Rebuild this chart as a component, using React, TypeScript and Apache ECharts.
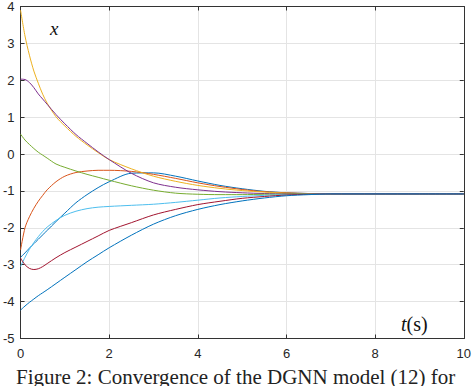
import React, { useEffect, useRef } from "react";
import * as echarts from "echarts";

const T = [0, 0.1, 0.2, 0.3, 0.4, 0.5, 0.6, 0.8, 1, 1.25, 1.5, 1.75, 2, 2.5, 3, 3.5, 4, 4.5, 5, 5.5, 6, 6.5, 7, 8, 9, 10];

const yellow = [3.9, 3.2, 2.68, 2.25, 1.92, 1.62, 1.38, 1.01, 0.76, 0.48, 0.25, 0.04, -0.15, -0.4, -0.6, -0.74, -0.85, -0.93, -0.99, -1.03, -1.06, -1.075, -1.08, -1.08, -1.08, -1.08];
const purple = [2.03, 2.02, 1.94, 1.8, 1.63, 1.49, 1.35, 1.07, 0.82, 0.53, 0.29, 0.06, -0.15, -0.52, -0.78, -0.9, -0.97, -1.02, -1.05, -1.07, -1.08, -1.08, -1.08, -1.08, -1.08, -1.08];
const green = [0.54, 0.38, 0.26, 0.15, 0.05, -0.03, -0.11, -0.27, -0.36, -0.46, -0.55, -0.63, -0.71, -0.86, -0.98, -1.06, -1.09, -1.1, -1.1, -1.09, -1.085, -1.08, -1.08, -1.08, -1.08, -1.08];
const orange = [-2.6, -2.0, -1.7, -1.47, -1.28, -1.12, -0.97, -0.75, -0.6, -0.5, -0.46, -0.44, -0.44, -0.47, -0.55, -0.66, -0.78, -0.88, -0.96, -1.02, -1.05, -1.07, -1.08, -1.08, -1.08, -1.08];
const blue1 = [-2.8, -2.68, -2.55, -2.43, -2.31, -2.19, -2.07, -1.83, -1.6, -1.32, -1.1, -0.91, -0.75, -0.52, -0.51, -0.6, -0.73, -0.85, -0.94, -1.01, -1.05, -1.07, -1.08, -1.08, -1.08, -1.08];
const lightBlue = [-3.05, -2.8, -2.58, -2.4, -2.24, -2.1, -1.98, -1.8, -1.66, -1.55, -1.48, -1.44, -1.42, -1.39, -1.36, -1.31, -1.25, -1.19, -1.15, -1.12, -1.1, -1.09, -1.08, -1.08, -1.08, -1.08];
const darkRed = [-2.82, -3.0, -3.1, -3.13, -3.11, -3.05, -2.97, -2.81, -2.67, -2.52, -2.37, -2.22, -2.07, -1.86, -1.65, -1.5, -1.37, -1.28, -1.2, -1.15, -1.11, -1.09, -1.08, -1.08, -1.08, -1.08];
const blue2 = [-4.23, -4.12, -4.02, -3.93, -3.84, -3.76, -3.68, -3.51, -3.34, -3.13, -2.92, -2.73, -2.54, -2.2, -1.9, -1.67, -1.5, -1.37, -1.27, -1.19, -1.13, -1.1, -1.08, -1.08, -1.08, -1.08];

const seriesList = [
  { name: "x1", values: blue1, color: "#0072BD" },
  { name: "x2", values: orange, color: "#D95319" },
  { name: "x3", values: yellow, color: "#EDB120" },
  { name: "x4", values: purple, color: "#7E2F8E" },
  { name: "x5", values: green, color: "#77AC30" },
  { name: "x6", values: lightBlue, color: "#4DBEEE" },
  { name: "x7", values: darkRed, color: "#A2142F" },
  { name: "x8", values: blue2, color: "#0072BD" },
];

const AXIS_COLOR = "#333333";
const GRID_COLOR = "#e4e4e4";

export default function App() {
  const ref = useRef<HTMLDivElement>(null);
  useEffect(() => {
    document.body.style.margin = "0";
    if (!ref.current) return;
    const chart = echarts.init(ref.current, undefined, { renderer: "svg" });
    const baseX = {
      type: "value" as const,
      min: 0,
      max: 10,
      interval: 2,
      axisLine: { show: true, onZero: false, lineStyle: { color: AXIS_COLOR, width: 1 } },
      axisTick: { show: true, inside: true, length: 4, lineStyle: { color: AXIS_COLOR } },
    };
    const baseY = {
      type: "value" as const,
      min: -5,
      max: 4,
      interval: 1,
      axisLine: { show: true, onZero: false, lineStyle: { color: AXIS_COLOR, width: 1 } },
      axisTick: { show: true, inside: true, length: 4, lineStyle: { color: AXIS_COLOR } },
    };
    chart.setOption({
      animation: false,
      backgroundColor: "#ffffff",
      grid: { left: 19, right: 8, top: 4.3, bottom: 47.5, containLabel: false },
      xAxis: [
        {
          ...baseX,
          position: "bottom",
          axisLabel: { color: "#262626", fontSize: 13, fontFamily: "Liberation Sans", margin: 8 },
          splitLine: { show: true, lineStyle: { color: GRID_COLOR, width: 1 } },
        },
        {
          ...baseX,
          position: "top",
          axisLabel: { show: false },
          splitLine: { show: false },
        },
      ],
      yAxis: [
        {
          ...baseY,
          position: "left",
          axisLabel: { color: "#262626", fontSize: 13, fontFamily: "Liberation Sans", margin: 6 },
          splitLine: { show: true, lineStyle: { color: GRID_COLOR, width: 1 } },
        },
        {
          ...baseY,
          position: "right",
          axisLabel: { show: false },
          splitLine: { show: false },
        },
      ],
      series: seriesList.map((s) => ({
        name: s.name,
        type: "line",
        xAxisIndex: 0,
        yAxisIndex: 0,
        showSymbol: false,
        smooth: 0.3,
        lineStyle: { color: s.color, width: 1 },
        itemStyle: { color: s.color },
        data: T.map((t, i) => [t, s.values[i]]),
      })),
      graphic: [
        {
          type: "text",
          left: 50,
          top: 19,
          style: { text: "x", font: "italic 19px 'Liberation Serif'", fill: "#111" },
        },
        {
          type: "text",
          left: 401,
          top: 314,
          style: {
            text: "{i|t}(s)",
            font: "20px 'Liberation Serif'",
            fill: "#111",
            rich: {
              i: { fontStyle: "italic", fontSize: 20, fontFamily: "Liberation Serif", fill: "#111" },
            },
          },
        },
        {
          type: "text",
          left: 16,
          top: 366,
          style: {
            text: "Figure 2: Convergence of the DGNN model (12) for",
            font: "21px 'Liberation Serif'",
            fill: "#222",
          },
        },
      ],
    });
    return () => chart.dispose();
  }, []);
  return <div ref={ref} style={{ width: 474, height: 386, position: "absolute", left: 0, top: 0 }} />;
}
